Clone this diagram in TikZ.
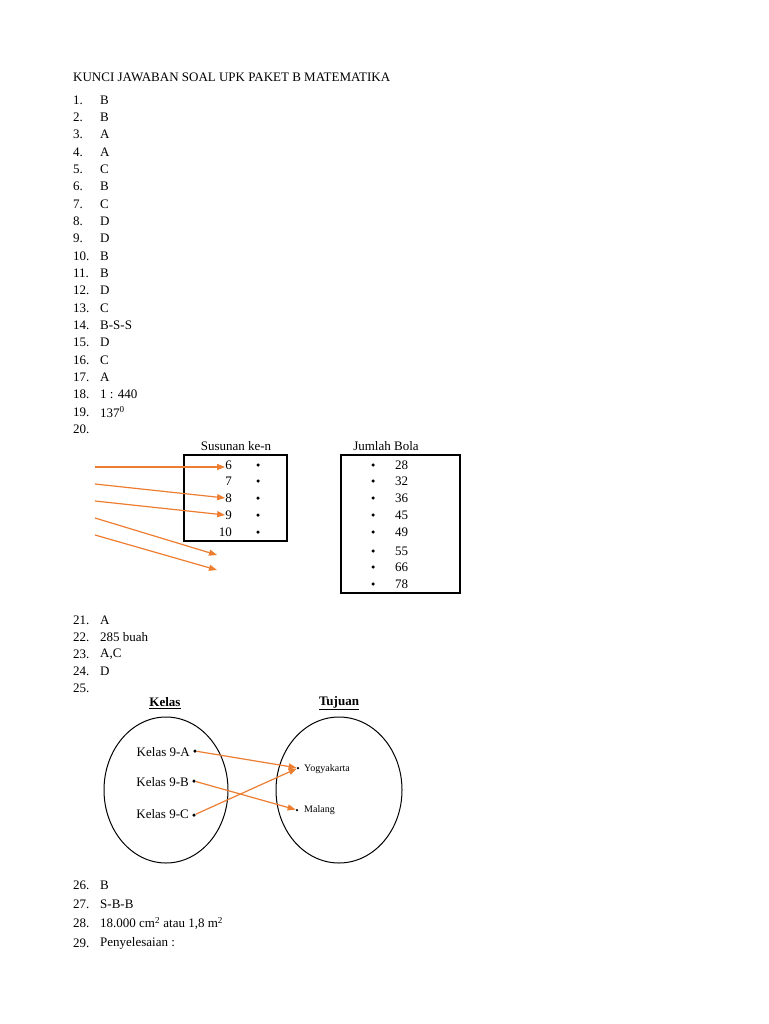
\documentclass[tikz,border=0pt]{standalone}
\usepackage{fontspec}
\setmainfont{Liberation Serif}
\usetikzlibrary{arrows.meta}
\definecolor{org}{RGB}{237,125,49}
\begin{document}
\begin{tikzpicture}[x=1pt,y=-1pt,
  txt/.style={anchor=west,inner sep=0,font=\fontsize{13}{15}\selectfont},
  arr/.style={org,line width=1.2pt,-{Triangle[length=8pt,width=6pt]}},
  dotn/.style={circle,fill,inner sep=0,minimum size=3.5pt}]
\useasboundingbox (0,0) rectangle (768,1024);
\node[txt] (title) at (73,77) {KUNCI JAWABAN SOAL UPK PAKET B MATEMATIKA};
\foreach \n/\a [count=\i from 0] in {1/B,2/B,3/A,4/A,5/C,6/B,7/C,8/D,9/D,10/B,11/B,12/D,13/C,14/B-S-S,15/D,16/C,17/A,18/1 : 440,19/137\textsuperscript{0}}{
  \node[txt] (n\n) at (73,100+17.33*\i) {\n.};
  \node[txt] (a\n) at (100,100+17.33*\i) {\a};
}
\node[txt] (n20) at (73,429) {20.};
% Q20
\node[txt,anchor=center] (h1) at (236,446) {Susunan ke-n};
\node[txt,anchor=center] (h2) at (386,446) {Jumlah Bola};
\draw[line width=1.2pt] (184,455) rectangle (287,541);
\draw[line width=1.2pt] (341,455) rectangle (460,593);
\foreach \v/\y in {6/465,7/481,8/498,9/515,10/532}{
  \node[txt,anchor=east] (s\v) at (232,\y) {\v};
  \node[dotn] (sb\v) at (258,\y) {};
}
\foreach \v/\y in {28/465,32/481,36/498,45/515,49/532,55/551,66/567,78/584}{
  \node[dotn] (jb\v) at (373,\y) {};
  \node[txt] (j\v) at (395,\y) {\v};
}
\coordinate (l1) at (95,467); \coordinate (l2) at (95,484); \coordinate (l3) at (95,501);
\coordinate (l4) at (95,518); \coordinate (l5) at (95,535);
\coordinate (e4) at (217,555); \coordinate (e5) at (217,570);
\draw[arr] (l1) -- (s6.west|-l1);
\draw[arr] (l2) -- (s8.west);
\draw[arr] (l3) -- (s9.west);
\draw[arr] (l4) -- (e4);
\draw[arr] (l5) -- (e5);
% 21-24
\foreach \n/\a [count=\i from 0] in {21/A,22/285 buah,23/{A,C},24/D}{
  \node[txt] (n\n) at (73,620+17*\i) {\n.};
  \node[txt] (a\n) at (100,620+17*\i) {\a};
}
\node[txt] (n25) at (73,688) {25.};
% Q25
\node[txt,anchor=center,font=\fontsize{13}{15}\selectfont\bfseries] (kel) at (165,703) {\underline{Kelas}};
\node[txt,anchor=center,font=\fontsize{13}{15}\selectfont\bfseries] (tuj) at (339,703) {\underline{Tujuan}};
\draw[line width=1pt] (166,790) ellipse [x radius=62,y radius=73];
\draw[line width=1pt] (339,790) ellipse [x radius=63,y radius=73];
\node[dotn] (dA) at (195,751) {}; \node[txt,anchor=east] (kA) at (190,752) {Kelas 9-A};
\node[dotn] (dB) at (194,781) {}; \node[txt,anchor=east] (kB) at (189,782) {Kelas 9-B};
\node[dotn] (dC) at (194,815) {}; \node[txt,anchor=east] (kC) at (189,814) {Kelas 9-C};
\node[dotn,minimum size=2.5pt] (dY) at (298,768) {}; \node[txt,font=\fontsize{10}{12}\selectfont] (tY) at (304,769) {Yogyakarta};
\node[dotn,minimum size=2.5pt] (dM) at (297,810) {}; \node[txt,font=\fontsize{10}{12}\selectfont] (tM) at (304,810) {Malang};
\draw[arr] (dA) -- (dY);
\draw[arr] (dB) -- (dM);
\draw[arr] (dC) -- (dY);
% 26-29
\foreach \n/\a [count=\i from 0] in {26/B,27/S-B-B,28/18.000 cm\textsuperscript{2} atau 1{,}8 m\textsuperscript{2},29/Penyelesaian :}{
  \node[txt] (n\n) at (73,885+19.3*\i) {\n.};
  \node[txt] (a\n) at (100,885+19.3*\i) {\a};
}
\end{tikzpicture}
\end{document}
